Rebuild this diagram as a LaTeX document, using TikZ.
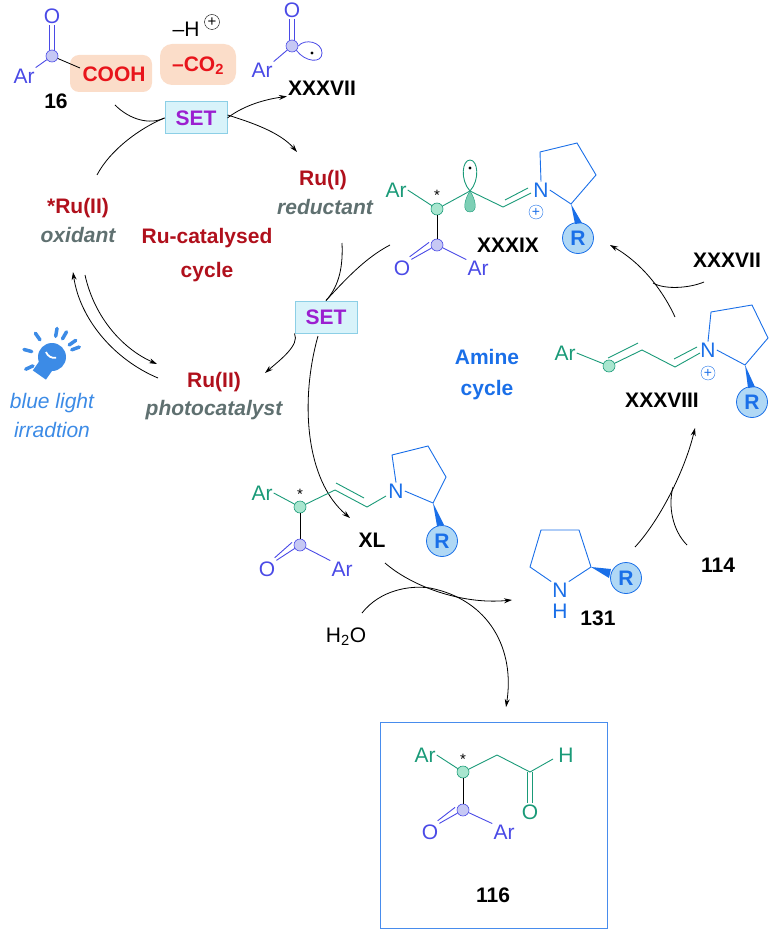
\documentclass[tikz,border=0pt]{standalone}
\usepackage{fontspec}
\setmainfont{Liberation Sans}
\usetikzlibrary{arrows.meta}
\definecolor{rured}{HTML}{B0101C}
\definecolor{grey}{HTML}{5F7070}
\definecolor{setp}{HTML}{9B1FD0}
\definecolor{setfill}{HTML}{D8F3FA}
\definecolor{setdraw}{HTML}{8CCFE6}
\definecolor{orng}{HTML}{FBDDC9}
\definecolor{cooh}{HTML}{E8141B}
\definecolor{teal}{HTML}{1A9A78}
\definecolor{tealfill}{HTML}{A8E6CF}
\definecolor{viol}{HTML}{4A4AE6}
\definecolor{violfill}{HTML}{C6C8F4}
\definecolor{amb}{HTML}{1A6FE8}
\definecolor{rfill}{HTML}{B0D8F5}
\definecolor{lightb}{HTML}{3C8BE6}
\tikzset{
  txt/.style={inner sep=1pt,font=\fontsize{21}{23}\selectfont},
  lbl/.style={txt,font=\fontsize{21}{23}\selectfont\bfseries},
  rulbl/.style={lbl,text=rured},
  greyl/.style={txt,text=grey,font=\fontsize{21}{23}\selectfont\bfseries\itshape},
  setbox/.style={draw=setdraw,fill=setfill,line width=1pt,text=setp,font=\fontsize{21}{23}\selectfont\bfseries,minimum width=62pt,minimum height=32pt,inner sep=2pt},
  arr/.style={line width=0.8pt,-{Stealth[length=8pt,width=5pt]}},
  ln/.style={line width=0.8pt},
  tb/.style={teal,line width=0.9pt},
  vb/.style={viol,line width=0.9pt},
  ab/.style={amb,line width=0.9pt},
  tdot/.style={circle,draw=teal,fill=tealfill,minimum size=12pt,inner sep=0pt,line width=0.6pt},
  vdot/.style={circle,draw=viol,fill=violfill,minimum size=12pt,inner sep=0pt,line width=0.6pt},
  rcirc/.style={circle,draw=amb,fill=rfill,text=amb,minimum size=31pt,inner sep=0pt,font=\fontsize{21}{23}\selectfont\bfseries,line width=0.8pt},
  plus/.style={circle,draw=amb,text=amb,inner sep=0pt,minimum size=14pt,font=\fontsize{14}{14}\selectfont},
  star/.style={inner sep=0pt,font=\fontsize{15}{15}\selectfont}
}
\begin{document}
\begin{tikzpicture}[x=1pt,y=-1pt]
\useasboundingbox (0,0) rectangle (772,933);
% ---- 16
\fill[orng,rounded corners=9pt] (70,55) rectangle (152,92);
\fill[orng,rounded corners=12pt] (160,44) rectangle (236,85);
\node[vdot] (c16) at (52,56) {};
\node[txt,text=viol] (o16) at (52,16) {O};
\node[txt,text=viol] (ar16) at (24,76) {Ar};
\draw[vb] ([xshift=-2.5pt]c16.north) -- ([xshift=-2.5pt]o16.south);
\draw[vb] ([xshift=2.5pt]c16.north) -- ([xshift=2.5pt]o16.south);
\draw[vb] (ar16.north east) -- (c16);
\draw[ln] (c16) -- (80,68);
\node[lbl,text=cooh] (cooh) at (114,74) {COOH};
\node[lbl] (n16) at (56,101) {16};
\node[txt] (hplus) at (186,29) {–H};
\node[circle,draw,inner sep=0pt,minimum size=15pt,font=\fontsize{15}{15}\selectfont] at (212,22) {+};
\node[lbl,text=cooh] (co2) at (198,66) {–CO\textsubscript{2}};
% ---- XXXVII top
\node[vdot] (c37) at (292,46) {};
\node[txt,text=viol] (o37) at (292,10) {O};
\node[txt,text=viol] (ar37) at (262,70) {Ar};
\draw[vb] ([xshift=-2.5pt]c37.north) -- ([xshift=-2.5pt]o37.south);
\draw[vb] ([xshift=2.5pt]c37.north) -- ([xshift=2.5pt]o37.south);
\draw[vb] (ar37.north east) -- (c37);
\draw[viol,line width=0.8pt] (c37.east) .. controls (305,38) and (322,42) .. (322,53) .. controls (322,64) and (305,62) .. (c37.south east);
\fill (312,53) circle (1.6pt);
\node[lbl] (l37) at (322,88) {XXXVII};
% SET 1
\node[setbox] (set1) at (196,118) {SET};
\draw[ln] (115,105) .. controls (130,120) and (150,125) .. (set1.west);
\draw[ln] (97,175) .. controls (110,150) and (140,128) .. (set1.west);
\draw[arr] (set1.east) .. controls (240,108) and (260,100) .. (l37.south west);
\node[rulbl] (ru1) at (323,180) {Ru(I)};
\draw[arr] ([yshift=3pt]set1.east) .. controls (250,122) and (280,132) .. (297,152);
\node[greyl] (red) at (325,207) {reductant};
\node[rulbl] (ru2s) at (78,208) {*Ru(II)};
\node[greyl] (ox) at (78,235) {oxidant};
\node[rulbl] (rucat) at (207,238) {Ru-catalysed};
\node[rulbl] (cyc) at (207,272) {cycle};
\node[rulbl] (ru2) at (214,382) {Ru(II)};
\node[greyl] (photo) at (214,410) {photocatalyst};
% double arrows
\coordinate (da1) at (158,378);
\coordinate (da2) at (73,272);
\coordinate (db1) at (85,275);
\coordinate (db2) at (157,364);
\draw[arr] (da1) .. controls (115,360) and (80,320) .. (da2);
\draw[arr] (db1) .. controls (95,320) and (125,350) .. (db2);
% bulb
\begin{scope}[shift={(52,357)}]
\fill[lightb] (0,0) circle (14pt);
\fill[lightb,rotate=-35] (-8,10) rectangle (8,22);
\draw[white,line width=1.8pt] (-6,-5) arc (160:80:9);
\foreach \a in {100,55,15,-25,145} \draw[lightb,line width=3.5pt,line cap=round] (\a:-21) -- (\a:-29);
\foreach \a in {-20,-60} \draw[lightb,line width=3.5pt,line cap=round] (\a:21) -- (\a:29);
\end{scope}
\node[txt,text=lightb,font=\fontsize{21}{23}\selectfont\itshape] (bl) at (52,403) {blue light};
\node[txt,text=lightb,font=\fontsize{21}{23}\selectfont\itshape] (irr) at (52,430) {irradtion};
% SET 2
\node[setbox] (set2) at (326,317) {SET};
\draw[ln] (342,243) .. controls (343,265) and (340,285) .. (set2.north);
\draw[ln] (390,245) .. controls (365,258) and (345,280) .. (set2.north);
\draw[arr] (set2.south west) .. controls (300,345) and (280,360) .. (265,373);
% ---- XXXIX
\node[txt,text=teal] (ar39) at (396,190) {Ar};
\node[tdot] (c39) at (437,209) {};
\node[star] at (437,195) {*};
\coordinate (rad) at (470,191);
\draw[tb] (ar39.east) -- (c39) -- (rad) -- (503,207);
\draw[tb] (503,207) -- (531,193);
\draw[tb] (505,200) -- (528,188);
\draw[tb] (rad) .. controls (460,180) and (462,160) .. (470,160) .. controls (478,160) and (480,180) .. (rad);
\fill (470,168) circle (1.6pt);
\fill[tealfill!70!teal,draw=teal] (rad) .. controls (464,200) and (462,212) .. (470,212) .. controls (478,212) and (476,200) .. (rad);
\node[txt,text=amb] (n39) at (541,190) {N};
\node[plus] at (536,212) {+};
\draw[ab] (n39.north) -- (540,152) -- (577,143) -- (596,175) -- (571,204) -- (n39.east);
\node[rcirc] (r39) at (578,238) {R};
\fill[amb] (571,204) -- (575,224) -- (582,223) -- cycle;
\node[vdot] (v39) at (437,245) {};
\draw[ln] (c39) -- (v39);
\node[txt,text=viol] (o39) at (402,268) {O};
\node[txt,text=viol] (arb39) at (478,268) {Ar};
\draw[vb] (v39) -- (arb39.north west);
\draw[vb] (v39) -- (o39.north east);
\draw[vb] ([shift={(-1.7,-2.6)}]v39.west) -- ([shift={(-1.7,-2.6)}]o39.north east);
\node[lbl] (l39) at (508,245) {XXXIX};
% XXXVII right
\node[lbl] (l37b) at (727,260) {XXXVII};
\coordinate (m1) at (653,283);
\draw[arr] (675,317) .. controls (665,295) and (645,265) .. (610,245);
\draw[ln] (704,282) .. controls (690,288) and (665,290) .. (m1);
% ---- XXXVIII
\node[txt,text=teal] (ar38) at (565,353) {Ar};
\node[tdot] (c38) at (609,366) {};
\draw[tb] (ar38.east) -- (c38) -- (642,350) -- (675,367) -- (700,353);
\draw[tb] (608,358) -- (638,343);
\draw[tb] (674,359) -- (697,347);
\node[txt,text=amb] (n38) at (708,350) {N};
\node[plus] at (708,373) {+};
\draw[ab] (n38.north) -- (711,312) -- (752,305) -- (768,338) -- (745,365) -- (n38.east);
\node[rcirc] (r38) at (752,402) {R};
\fill[amb] (745,365) -- (748,388) -- (755,387) -- cycle;
\node[lbl] (l38) at (662,400) {XXXVIII};
\node[lbl,text=amb] (amc) at (487,357) {Amine};
\node[lbl,text=amb] (amc2) at (487,390) {cycle};
% 131
\node[txt,text=amb] (n131) at (560,590) {N};
\node[txt,text=amb] (h131) at (560,611) {H};
\draw[ab] (n131.north west) -- (530,567) -- (541,530) -- (579,530) -- (591,567) -- (n131.north east);
\node[rcirc] (r131) at (626,578) {R};
\fill[amb] (591,567) -- (611,569) -- (609,578) -- cycle;
\node[lbl] (l131) at (598,618) {131};
\node[lbl] (l114) at (718,565) {114};
\draw[arr] (635,547) .. controls (660,520) and (685,470) .. (695,428);
\draw[ln] (687,545) .. controls (672,530) and (668,505) .. (673,487);
% arc SET2 -> XL
\draw[arr] (318,336) .. controls (300,400) and (305,480) .. (350,518);
% ---- XL
\node[txt,text=teal] (arxl) at (262,493) {Ar};
\node[tdot] (cxl) at (300,507) {};
\node[star] at (300,494) {*};
\draw[tb] (arxl.east) -- (cxl) -- (335,490) -- (367,507) -- (386,496);
\draw[tb] (336,483) -- (364,498);
\node[txt,text=amb] (nxl) at (396,491) {N};
\draw[ab] (nxl.north) -- (392,455) -- (428,446) -- (446,477) -- (433,503) -- (nxl.east);
\node[rcirc] (rxl) at (442,541) {R};
\fill[amb] (433,503) -- (437,526) -- (444,525) -- cycle;
\node[vdot] (vxl) at (300,545) {};
\draw[ln] (cxl) -- (vxl);
\node[txt,text=viol] (oxl) at (267,569) {O};
\node[txt,text=viol] (arbxl) at (342,569) {Ar};
\draw[vb] (vxl) -- (arbxl.north west);
\draw[vb] (vxl) -- (oxl.north east);
\draw[vb] ([shift={(-1.7,-2.6)}]vxl.west) -- ([shift={(-1.7,-2.6)}]oxl.north east);
\node[lbl] (lxl) at (372,540) {XL};
% XL -> 131, H2O, -> 116
\node[txt] (h2o) at (346,637) {H\textsubscript{2}O};
\draw[arr] (385,563) .. controls (410,585) and (460,605) .. (512,600);
\draw[ln] (362,613) .. controls (380,590) and (410,585) .. (430,588);
\draw[arr] (430,588) .. controls (490,600) and (515,650) .. (506,707);
% box 116
\node[draw=amb!80,line width=1pt,minimum width=227pt,minimum height=206pt,inner sep=0pt] (box) at (493.5,825) {};
\node[txt,text=teal] (ar116) at (425,755) {Ar};
\node[tdot] (c116) at (463,772) {};
\node[star] at (463,759) {*};
\draw[tb] (ar116.east) -- (c116) -- (497,755) -- (530,772) -- (553,759);
\node[txt,text=teal] (h116) at (566,755) {H};
\node[txt,text=teal] (o116) at (530,812) {O};
\draw[tb] ([xshift=-2.5pt]530,772) -- ([xshift=-2.5pt]o116.north);
\draw[tb] ([xshift=2.5pt]530,772) -- ([xshift=2.5pt]o116.north);
\node[vdot] (v116) at (463,810) {};
\draw[ln] (c116) -- (v116);
\node[txt,text=viol] (ob116) at (430,832) {O};
\node[txt,text=viol] (arb116) at (504,832) {Ar};
\draw[vb] (v116) -- (arb116.north west);
\draw[vb] (v116) -- (ob116.north east);
\draw[vb] ([shift={(-1.7,-2.6)}]v116.west) -- ([shift={(-1.7,-2.6)}]ob116.north east);
\node[lbl] (l116) at (493,895) {116};
\end{tikzpicture}
\end{document}
